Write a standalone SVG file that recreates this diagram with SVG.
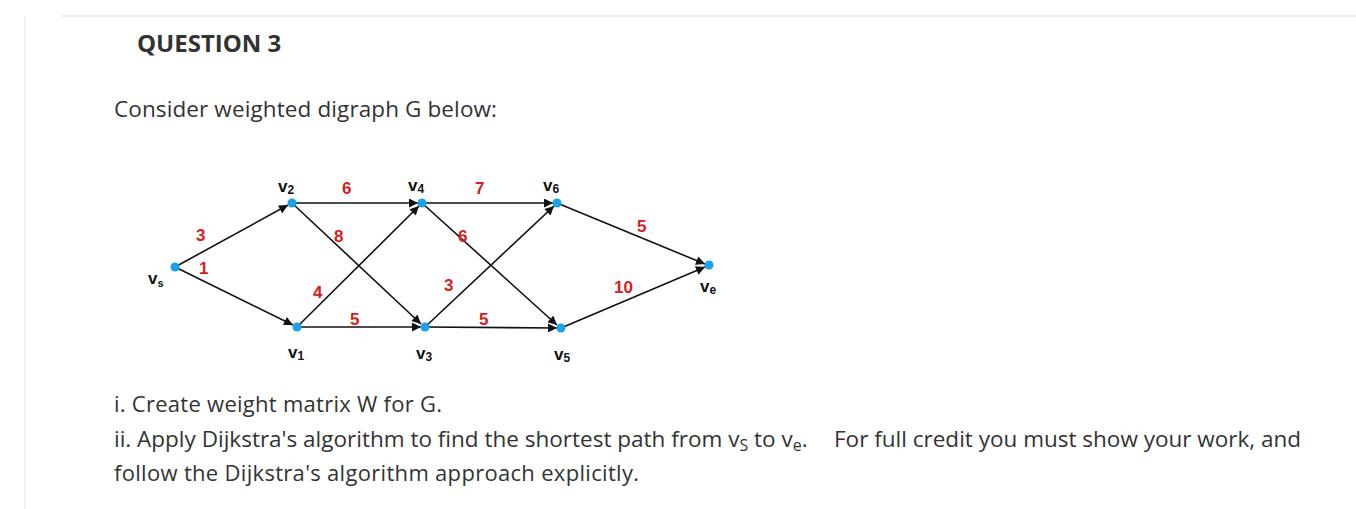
<svg xmlns="http://www.w3.org/2000/svg" width="1356" height="509" viewBox="0 0 1356 509">
<style>
.t{font-family:"Open Sans","Noto Sans",sans-serif;fill:#333}
.e{stroke:#111;stroke-width:1.6;fill:none;marker-end:url(#a)}
.n{fill:#1aa3e8}
.l{font-family:"Liberation Sans",Arial,sans-serif;font-weight:bold;font-size:17px}
.w{fill:#d42020}
.v{fill:#111}
</style>
<defs><marker id="a" viewBox="0 0 10 10" refX="10" refY="5" markerWidth="10" markerHeight="9" orient="auto" markerUnits="userSpaceOnUse"><path d="M0,0L10,5L0,10z" fill="#111"/></marker></defs>
<rect width="1356" height="509" fill="#fff"/>
<line x1="62" y1="16" x2="1356" y2="16" stroke="#ddd"/>
<line x1="25" y1="16" x2="25" y2="509" stroke="#e5e5e5"/>
<text class="t" x="137" y="52" font-size="24" font-weight="bold" fill="#222">QUESTION 3</text>
<text class="t" x="114" y="117" font-size="22.5" textLength="383">Consider weighted digraph G below:</text>
<g id="edges">
<line class="e" x1="175" y1="267" x2="288" y2="205"/>
<line class="e" x1="175" y1="267" x2="293" y2="325"/>
<line class="e" x1="292" y1="203" x2="418" y2="203"/>
<line class="e" x1="292" y1="203" x2="421" y2="324"/>
<line class="e" x1="297" y1="327" x2="419" y2="206"/>
<line class="e" x1="297" y1="327" x2="421" y2="327"/>
<line class="e" x1="422" y1="203" x2="553" y2="203"/>
<line class="e" x1="422" y1="203" x2="557" y2="325"/>
<line class="e" x1="425" y1="327" x2="554" y2="206"/>
<line class="e" x1="425" y1="327" x2="557" y2="328"/>
<line class="e" x1="557" y1="203" x2="705" y2="264"/>
<line class="e" x1="561" y1="328" x2="705" y2="267"/>
</g>
<g class="l w">
<text x="196" y="241">3</text><text x="199" y="274">1</text>
<text x="342" y="194">6</text><text x="334" y="242">8</text>
<text x="313" y="298">4</text><text x="350" y="325">5</text>
<text x="475" y="194">7</text><text x="458" y="242">6</text>
<text x="444" y="291">3</text><text x="479" y="325">5</text>
<text x="637" y="232">5</text><text x="614" y="293">10</text>
</g>
<g id="vs"><circle class="n" cx="175" cy="267" r="4.5"/><text class="l v" x="148" y="284">v<tspan font-size="11" dy="3">s</tspan></text></g>
<g id="v2"><circle class="n" cx="292" cy="203" r="4.5"/><text class="l v" x="278" y="192">v<tspan font-size="12" dy="2">2</tspan></text></g>
<g id="v1"><circle class="n" cx="297" cy="327" r="4.5"/><text class="l v" x="288" y="358">v<tspan font-size="12" dy="2">1</tspan></text></g>
<g id="v4"><circle class="n" cx="422" cy="203" r="4.5"/><text class="l v" x="408" y="191">v<tspan font-size="12" dy="2">4</tspan></text></g>
<g id="v3"><circle class="n" cx="425" cy="327" r="4.5"/><text class="l v" x="416" y="359">v<tspan font-size="12" dy="2">3</tspan></text></g>
<g id="v6"><circle class="n" cx="557" cy="203" r="4.5"/><text class="l v" x="543" y="191">v<tspan font-size="12" dy="2">6</tspan></text></g>
<g id="v5"><circle class="n" cx="561" cy="328" r="4.5"/><text class="l v" x="554" y="360">v<tspan font-size="12" dy="2">5</tspan></text></g>
<g id="ve"><circle class="n" cx="709" cy="265" r="4.5"/><text class="l v" x="700" y="292">v<tspan font-size="12" dy="2">e</tspan></text></g>
<text class="t" x="114" y="412" font-size="22" textLength="328">i. Create weight matrix W for G.</text>
<text class="t" x="114" y="447" font-size="22.5">ii. Apply Dijkstra's algorithm to find the shortest path from v<tspan font-size="16" dy="4">S</tspan><tspan dy="-4"> to v</tspan><tspan font-size="16" dy="4">e</tspan><tspan dy="-4">.</tspan><tspan x="834">For full credit you must show your work, and</tspan></text>
<text class="t" x="114" y="481" font-size="22" textLength="525">follow the Dijkstra's algorithm approach explicitly.</text>
</svg>
